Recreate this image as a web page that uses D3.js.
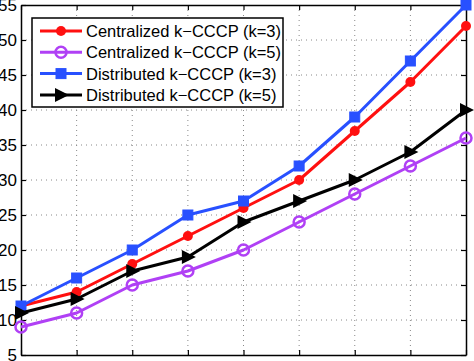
<!DOCTYPE html>
<html>
<head>
<meta charset="utf-8">
<script src="https://cdn.jsdelivr.net/npm/d3@7"></script>
<style>
  body { margin: 0; background: #fff; }
  svg { display: block; font-family: "Liberation Sans", Arial, sans-serif; }
</style>
</head>
<body>
<div id="chart"></div>
<script>
// data (x labels are cropped in the original)
var xValues = [1, 2, 3, 4, 5, 6, 7, 8, 9];
var yTicks = [5, 10, 15, 20, 25, 30, 35, 40, 45, 50, 55];
var seriesNames = ["Centralized k\u2212CCCP (k=3)", "Centralized k\u2212CCCP (k=5)",
                   "Distributed k\u2212CCCP (k=3)", "Distributed k\u2212CCCP (k=5)"];
var centralK3 = [12, 14, 18, 22, 26, 30, 37, 44, 52];
var centralK5 = [9, 11, 15, 17, 20, 24, 28, 32, 36];
var distribK3 = [12, 16, 20, 25, 27, 32, 39, 47, 55];
var distribK5 = [11, 13, 17, 19, 24, 27, 30, 34, 40];

var seriesList = [
  { name: seriesNames[0], values: centralK3, color: "#ff1010", marker: "dot" },
  { name: seriesNames[1], values: centralK5, color: "#b040f5", marker: "ring" },
  { name: seriesNames[2], values: distribK3, color: "#2850ff", marker: "square" },
  { name: seriesNames[3], values: distribK5, color: "#000000", marker: "tri" }
];

var W = 474, H = 361;
var plotL = 21, plotR = 466, plotT = 5, plotB = 355;

var svg = d3.select("#chart").append("svg").attr("width", W).attr("height", H);

var x = d3.scaleLinear().domain([1, 9]).range([plotL, plotR]);
var y = d3.scaleLinear().domain([5, 55]).range([plotB, plotT]);

// dotted grid
var grid = svg.append("g");
xValues.slice(1, -1).forEach(function(v){
  grid.append("line").attr("x1", x(v)).attr("x2", x(v)).attr("y1", plotT).attr("y2", plotB)
    .attr("stroke", "#888").attr("stroke-width", 1).attr("stroke-dasharray", "1,4");
});
yTicks.slice(1, -1).forEach(function(v){
  grid.append("line").attr("x1", plotL).attr("x2", plotR).attr("y1", y(v)).attr("y2", y(v))
    .attr("stroke", "#888").attr("stroke-width", 1).attr("stroke-dasharray", "1,4");
});

// axes, ticks pointing inwards like matlab
var yAxisL = d3.axisLeft(y).tickValues(yTicks).tickSizeInner(-5).tickSizeOuter(0).tickPadding(4);
var yAxisR = d3.axisRight(y).tickValues(yTicks).tickSizeInner(-5).tickSizeOuter(0).tickFormat("");
var xAxisB = d3.axisBottom(x).tickValues(xValues).tickSizeInner(-5).tickSizeOuter(0).tickFormat("");
var xAxisT = d3.axisTop(x).tickValues(xValues).tickSizeInner(-5).tickSizeOuter(0).tickFormat("");

function styleAxis(g){
  g.selectAll("path").attr("stroke", "#000").attr("stroke-width", 1.5);
  g.selectAll("line").attr("stroke", "#000").attr("stroke-width", 1.2);
  g.selectAll("text").attr("fill", "#000").style("font-size", "17px")
    .style("font-family", "'Liberation Sans', Arial, sans-serif");
}
svg.append("g").attr("transform", "translate(" + plotL + ",0)").call(yAxisL).call(styleAxis);
svg.append("g").attr("transform", "translate(" + plotR + ",0)").call(yAxisR).call(styleAxis);
svg.append("g").attr("transform", "translate(0," + plotB + ")").call(xAxisB).call(styleAxis);
svg.append("g").attr("transform", "translate(0," + plotT + ")").call(xAxisT).call(styleAxis);

// markers
function drawMarker(g, kind, color, cx, cy){
  if (kind == "dot") {
    g.append("circle").attr("cx", cx).attr("cy", cy).attr("r", 5).attr("fill", color);
  } else if (kind == "ring") {
    g.append("circle").attr("cx", cx).attr("cy", cy).attr("r", 5.5).attr("fill", "none")
      .attr("stroke", color).attr("stroke-width", 2.5);
  } else if (kind == "square") {
    g.append("rect").attr("x", cx - 5).attr("y", cy - 5).attr("width", 10).attr("height", 10)
      .attr("fill", color).attr("stroke", color).attr("stroke-width", 1);
  } else {
    g.append("path").attr("d", "M" + (cx - 6) + "," + (cy - 7) + "L" + (cx + 8) + "," + cy + "L" + (cx - 6) + "," + (cy + 7) + "Z")
      .attr("fill", color);
  }
}

var line = d3.line().x(function(d, i){ return x(xValues[i]); }).y(function(d){ return y(d); });

seriesList.forEach(function(s){
  var g = svg.append("g");
  g.append("path").datum(s.values).attr("d", line).attr("fill", "none")
    .attr("stroke", s.color).attr("stroke-width", 3).attr("stroke-linejoin", "round");
  s.values.forEach(function(v, i){ drawMarker(g, s.marker, s.color, x(xValues[i]), y(v)); });
});

// legend
var lg = svg.append("g");
lg.append("rect").attr("x", 32).attr("y", 18).attr("width", 251).attr("height", 89)
  .attr("fill", "#fff").attr("stroke", "#000").attr("stroke-width", 1.5);
seriesList.forEach(function(s, i){
  var ly = 31 + i * 21.3;
  lg.append("line").attr("x1", 40).attr("x2", 82).attr("y1", ly).attr("y2", ly)
    .attr("stroke", s.color).attr("stroke-width", 3);
  drawMarker(lg, s.marker, s.color, 61, ly);
  lg.append("text").attr("x", 86).attr("y", ly).attr("dy", "0.36em")
    .style("font-size", "16.5px").text(s.name);
});
</script>
</body>
</html>
